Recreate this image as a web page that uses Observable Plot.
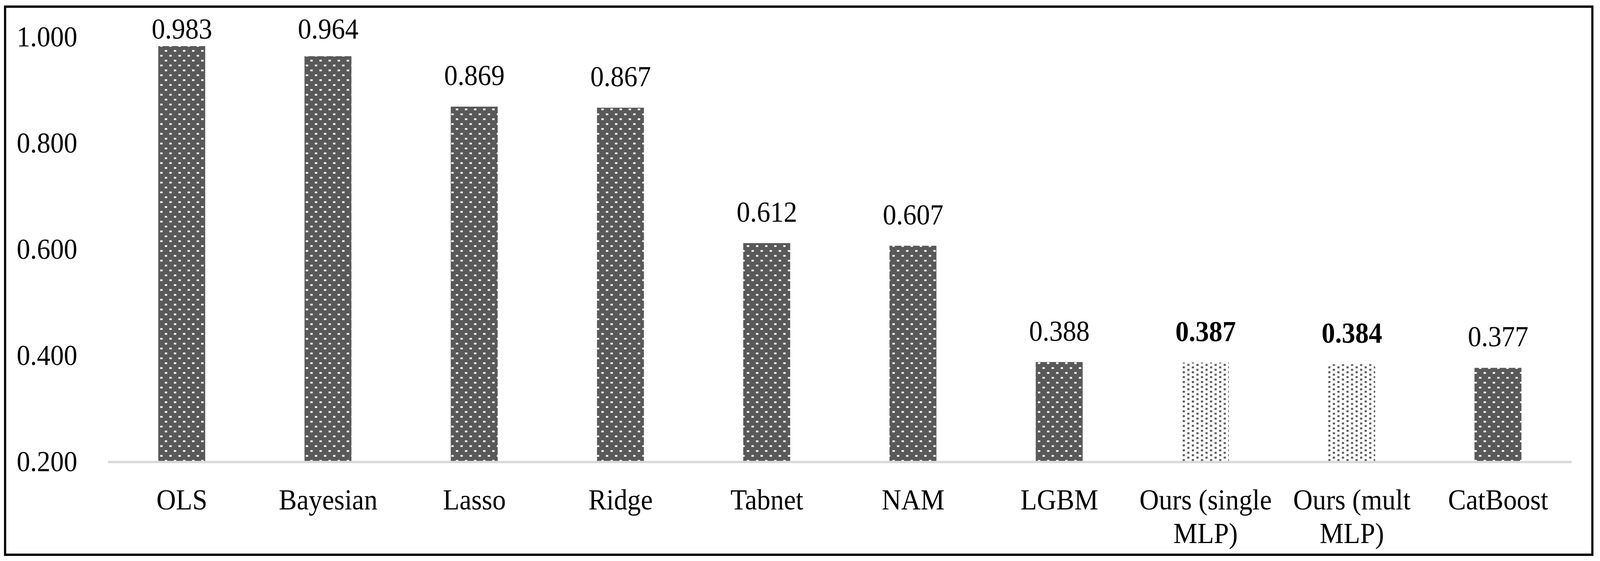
<!DOCTYPE html>
<html>
<head>
<meta charset="utf-8">
<script src="https://cdn.jsdelivr.net/npm/d3@7"></script>
<script src="https://cdn.jsdelivr.net/npm/@observablehq/plot@0.6"></script>
<style>
  html, body { margin: 0; padding: 0; background: #fff; overflow: hidden; width: 100%; height: 100%; }
  #chart svg { display: block; width: 100vw !important; height: 100vh !important; max-width: none !important; }
</style>
</head>
<body>
<div id="chart"></div>
<script>
// ---- data ----
const categories = ["OLS", "Bayesian", "Lasso", "Ridge", "Tabnet", "NAM", "LGBM", "Ours (single MLP)", "Ours (mult MLP)", "CatBoost"];
const values = [0.983, 0.964, 0.869, 0.867, 0.612, 0.607, 0.388, 0.387, 0.384, 0.377];
const tickLabels = ["OLS", "Bayesian", "Lasso", "Ridge", "Tabnet", "NAM", "LGBM", "Ours (single\nMLP)", "Ours (mult\nMLP)", "CatBoost"];
const highlighted = [false, false, false, false, false, false, false, true, true, false];
const yTicks = [0.2, 0.4, 0.6, 0.8, 1.0];
const yMin = 0.2, yMax = 1.0;

const data = categories.map((c, i) => ({cat: c, v: values[i], hl: highlighted[i], label: tickLabels[i]}));
const labelOf = new Map(data.map(d => [d.cat, d.label]));

const W = 4398, H = 1437;
const font = "'Liberation Serif', 'Times New Roman', serif";
const fs = 74;
const labelCap = 0.957;

const plot = Plot.plot({
  width: W,
  height: H,
  marginLeft: 297,
  marginRight: 78,
  marginTop: 95,
  marginBottom: 254,
  style: {fontFamily: font, fontSize: fs + "px", background: "transparent", color: "#000"},
  x: {domain: categories, paddingInner: 0.68, paddingOuter: 0.34, axis: null},
  y: {domain: [yMin, yMax], axis: null},
  marks: [
    Plot.barY(data.filter(d => !d.hl), {x: "cat", y1: yMin, y2: "v", fill: "url(#patDark)"}),
    Plot.barY(data.filter(d => d.hl), {x: "cat", y1: yMin, y2: "v", fill: "url(#patLight)"}),
    Plot.ruleY([yMin], {stroke: "#d9d9d9", strokeWidth: 6}),
    Plot.axisY({ticks: yTicks, tickSize: 0, tickPadding: 85, tickFormat: d3.format(".3f"), fontSize: fs, fill: "#000", label: null}),
    Plot.axisX({tickSize: 0, tickPadding: 61, tickFormat: c => labelOf.get(c), fontSize: fs, lineHeight: 1.16, fill: "#000", label: null}),
    Plot.text(data.filter(d => !d.hl), {x: "cat", y: d => Math.min(d.v, labelCap), dy: -79, text: d => d.v.toFixed(3), fontSize: fs, fill: "#000"}),
    Plot.text(data.filter(d => d.hl), {x: "cat", y: d => Math.min(d.v, labelCap), dy: -79, text: d => d.v.toFixed(3), fontSize: fs, fontWeight: "bold", fill: "#000"})
  ]
});

// patterns and outer border
const svg = d3.select(plot);
svg.attr("viewBox", `0 0 ${W} ${H}`).attr("preserveAspectRatio", "none");
const defs = svg.insert("defs", ":first-child");
const pd = defs.append("pattern").attr("id", "patDark").attr("patternUnits", "userSpaceOnUse")
  .attr("width", 25).attr("height", 25);
pd.append("rect").attr("width", 25).attr("height", 25).attr("fill", "#595959");
pd.append("rect").attr("x", 3).attr("y", 3).attr("width", 6.5).attr("height", 4.5).attr("fill", "#fff");
pd.append("rect").attr("x", 15.5).attr("y", 15.5).attr("width", 6.5).attr("height", 4.5).attr("fill", "#fff");

const pl = defs.append("pattern").attr("id", "patLight").attr("patternUnits", "userSpaceOnUse")
  .attr("width", 25).attr("height", 12.5);
pl.append("rect").attr("width", 25).attr("height", 12.5).attr("fill", "#fff");
pl.append("rect").attr("x", 1).attr("y", 1).attr("width", 6).attr("height", 5).attr("fill", "#595959");
pl.append("rect").attr("x", 13.5).attr("y", 7.25).attr("width", 6).attr("height", 5).attr("fill", "#595959");

svg.append("rect").attr("x", 14).attr("y", 17).attr("width", W - 14 - 21).attr("height", H - 17 - 16)
  .attr("fill", "none").attr("stroke", "#000").attr("stroke-width", 6);

document.getElementById("chart").appendChild(plot);
</script>
</body>
</html>
